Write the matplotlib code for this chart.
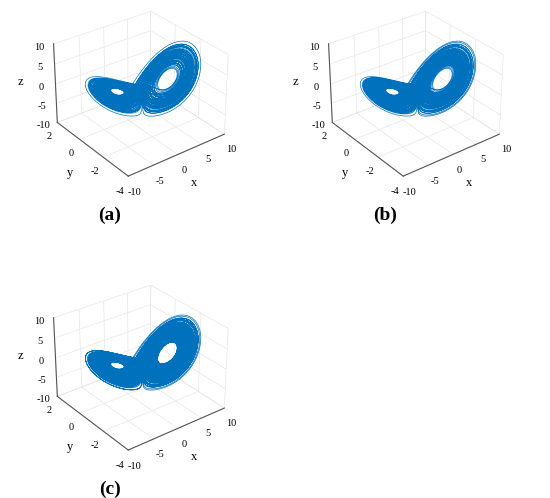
import numpy as np
import matplotlib
matplotlib.use("Agg")
import matplotlib.pyplot as plt

plt.rcParams['font.family'] = ['Liberation Serif', 'DejaVu Serif']
plt.rcParams['axes.unicode_minus'] = False

panel_labels = ["(a)", "(b)", "(c)"]
# Lorenz parameters per panel, steps per panel
rho_values = [28.0, 28.0, 28.0]
n_steps = [10000, 14000, 18000]
x_ticks = [-10, -5, 0, 5, 10]
y_ticks = [-4, -2, 0, 2]
z_ticks = [-10, -5, 0, 5, 10]
line_color = "#0072BD"


def lorenz(state, rho, sigma=10.0, beta=8.0 / 3.0):
  x, y, z = state
  return np.array([sigma * (y - x), x * (rho - z) - y, x * y - beta * z])


def trajectory(rho, steps, dt=0.01):
  s = np.array([1.0, 1.0, 1.0])
  out = np.empty((steps, 3))
  for i in range(steps + 500):
    k1 = lorenz(s, rho)
    k2 = lorenz(s + dt / 2 * k1, rho)
    k3 = lorenz(s + dt / 2 * k2, rho)
    k4 = lorenz(s + dt * k3, rho)
    s = s + dt / 6 * (k1 + 2 * k2 + 2 * k3 + k4)
    if i >= 500:
      out[i - 500] = s
  # rescale into the chart's box
  x = out[:, 0] / 2.3 + 0.5
  y = -out[:, 1] / 14.0 - 1.0
  z = (out[:, 2] - 25) / 2.8 + 0.3 * x
  return x, y, z


fig = plt.figure(figsize=(5.5, 4.98), dpi=100)
rects = [(0.0, 0.625, 0.5, 0.38), (0.5, 0.625, 0.5, 0.38), (0.0, 0.075, 0.5, 0.38)]
label_pos = [(0.2, 0.567), (0.7, 0.567), (0.2, 0.018)]

for idx, rect in enumerate(rects):
  ax = fig.add_axes(rect, projection='3d')
  x, y, z = trajectory(rho_values[idx], n_steps[idx])
  ax.plot(x, y, z, color=line_color, lw=0.5)
  ax.set_xlim(-10, 10); ax.set_ylim(-4, 2); ax.set_zlim(-10, 10)
  ax.set_xticks(x_ticks); ax.set_yticks(y_ticks); ax.set_zticks(z_ticks)
  ax.view_init(elev=30, azim=-127.5)
  ax.set_xlabel("x", fontsize=9, labelpad=-6)
  ax.set_ylabel("y", fontsize=9, labelpad=-6)
  ax.set_zlabel("z", fontsize=9, labelpad=-6)
  ax.tick_params(labelsize=7.5, pad=-2)
  for a in (ax.xaxis, ax.yaxis, ax.zaxis):
    a.set_pane_color((1, 1, 1, 0))
    a._axinfo["grid"].update(color="#e6e6e6", linewidth=0.5)
    a._axinfo["tick"].update(inward_factor=0.0, outward_factor=0.0)
    a.line.set_color("#555555")
  fig.text(label_pos[idx][0], label_pos[idx][1], panel_labels[idx],
           fontsize=14, fontweight='bold', ha='center', va='center')

fig.savefig("out.png", dpi=100)
